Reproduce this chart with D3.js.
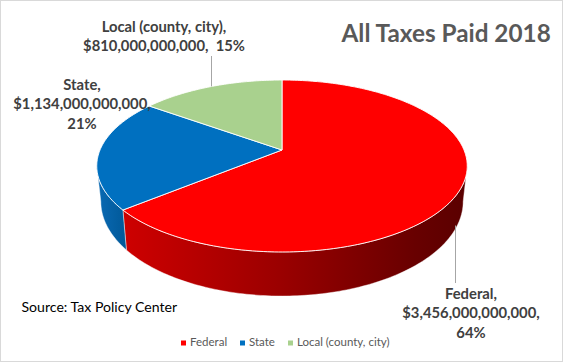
<!DOCTYPE html>
<html>
<head>
<meta charset="utf-8">
<script src="https://cdn.jsdelivr.net/npm/d3@7"></script>
<style>
  body { margin: 0; background: #fff; }
  svg { display: block; font-family: Lato, "Open Sans", sans-serif; }
</style>
</head>
<body>
<div id="chart"></div>
<script>
// data
const categories = ["Federal", "State", "Local (county, city)"];
const values = [3456000000000, 1134000000000, 810000000000];
const colors = ["#ff0000", "#0070c0", "#a9d18e"];
const title = "All Taxes Paid 2018";
const source = "Source: Tax Policy Center";

const width = 564, height = 363;
const cx = 282;
// perspective ellipses for top face and bottom edge of the disc
const topRim = { a: 182, b: 83, k: 0.186, cy: 150 };
const botRim = { a: 178, b: 91.2, k: 0.186, cy: 184 };

const proj = (t, rim) => {
  const den = 1 + rim.k * Math.cos(t);
  return [cx + rim.a * Math.sin(t) / den, rim.cy - rim.b * Math.cos(t) / den];
};
const arcPts = (t0, t1, rim) => {
  const n = Math.max(2, Math.ceil(Math.abs(t1 - t0) * 60));
  return d3.range(n + 1).map(i => proj(t0 + (t1 - t0) * i / n, rim));
};

const svg = d3.select("#chart").append("svg")
  .attr("width", width)
  .attr("height", height);

svg.append("rect")
  .attr("x", 0.5).attr("y", 0.5)
  .attr("width", width - 2).attr("height", height - 2)
  .attr("fill", "#fff")
  .attr("stroke", "#d9d9d9");

const defs = svg.append("defs");
const sideGrads = [
  [["0", "#cf0000"], ["0.45", "#9c0000"], ["0.85", "#680000"], ["1", "#5a0000"]],
  [["0", "#0a6ab4"], ["1", "#005796"]],
  [["0", "#8fb877"], ["1", "#6f9a58"]]
];
const gradX = [[120, 467], [97, 128], [97, 467]];
sideGrads.forEach((stops, i) => {
  const g = defs.append("linearGradient")
    .attr("id", "side" + i)
    .attr("gradientUnits", "userSpaceOnUse")
    .attr("x1", gradX[i][0]).attr("x2", gradX[i][1])
    .attr("y1", 0).attr("y2", 0);
  stops.forEach(s => g.append("stop").attr("offset", s[0]).attr("stop-color", s[1]));
});

const pie = d3.pie().sort(null).value(d => d);
const arcs = pie(values);
const total = d3.sum(values);

const line = d3.line();

// visible front side lies between the two silhouette angles
const tL = Math.acos(-topRim.k);
const tR = 2 * Math.PI - tL;

const sides = svg.append("g");
arcs.forEach((a, i) => {
  const t0 = Math.max(a.startAngle, tL);
  const t1 = Math.min(a.endAngle, tR);
  if (t1 <= t0) return;
  const pts = arcPts(t0, t1, topRim).concat(arcPts(t1, t0, botRim));
  sides.append("path")
    .attr("d", line(pts) + "Z")
    .attr("fill", `url(#side${i})`)
    .attr("stroke", "#ffffff")
    .attr("stroke-opacity", 0.6)
    .attr("stroke-width", 0.7);
});

const tops = svg.append("g");
arcs.forEach((a, i) => {
  const pts = [[cx, topRim.cy]].concat(arcPts(a.startAngle, a.endAngle, topRim));
  tops.append("path")
    .attr("d", line(pts) + "Z")
    .attr("fill", colors[i])
    .attr("stroke", "#ffffff")
    .attr("stroke-width", 0.9)
    .attr("stroke-linejoin", "round");
});

// data labels
const money = v => "$" + d3.format(",.0f")(v);
const pct = v => d3.format(".0%")(v / total);
const labelLines = [
  [categories[0] + ",", money(values[0]) + ",", pct(values[0])],
  [categories[1] + ",", money(values[1]) + ",", pct(values[1])],
  [categories[2] + ",", money(values[2]) + ",  " + pct(values[2])]
];
const labelPos = [[471, 299], [82, 90], [164, 32]];

const labels = svg.append("g")
  .attr("font-weight", "bold")
  .attr("font-size", 14.8)
  .attr("fill", "#404040")
  .attr("text-anchor", "middle");
labelLines.forEach((ls, i) => {
  const t = labels.append("text")
    .attr("x", labelPos[i][0])
    .attr("y", labelPos[i][1])
    .attr("xml:space", "preserve");
  ls.forEach((s, j) => t.append("tspan")
    .attr("x", labelPos[i][0])
    .attr("dy", j === 0 ? 0 : 19.3)
    .text(s));
});

// leader lines: find rim point under the label
const rimAt = (a, x, rim, near) => {
  const ts = d3.range(0, 201).map(j => a.startAngle + (a.endAngle - a.startAngle) * j / 200);
  return d3.least(ts.filter(t => near(t)), t => Math.abs(proj(t, rim)[0] - x));
};
const lx2 = 211.5;
const tLocal = rimAt(arcs[2], lx2, topRim, t => Math.cos(t) > 0);
svg.append("line")
  .attr("x1", lx2).attr("x2", lx2)
  .attr("y1", 56).attr("y2", proj(tLocal, topRim)[1])
  .attr("stroke", "#a6a6a6").attr("stroke-width", 1);

const lx0 = 455.5;
const tFed = rimAt(arcs[0], lx0, topRim, t => Math.cos(t) < 0);
const yTop = proj(tFed, topRim)[1], yBot = proj(tFed, botRim)[1];
svg.append("line")
  .attr("x1", lx0).attr("x2", lx0)
  .attr("y1", yTop + 0.78 * (yBot - yTop)).attr("y2", 283)
  .attr("stroke", "#a6a6a6").attr("stroke-width", 1);

// title
svg.append("text")
  .attr("x", 341.5).attr("y", 42)
  .attr("font-size", 24.3)
  .attr("font-weight", "bold")
  .attr("fill", "#595959")
  .text(title);

// source note
svg.append("text")
  .attr("x", 21.5).attr("y", 311.5)
  .attr("font-size", 14.1)
  .attr("fill", "#000")
  .text(source);

// legend
const legendX = [181, 240, 288];
const legend = svg.append("g").attr("font-size", 11.5).attr("fill", "#595959");
categories.forEach((c, i) => {
  legend.append("rect")
    .attr("x", legendX[i]).attr("y", 340.5)
    .attr("width", 5).attr("height", 5)
    .attr("fill", colors[i]);
  legend.append("text")
    .attr("x", legendX[i] + 9).attr("y", 346)
    .text(c);
});
</script>
</body>
</html>
